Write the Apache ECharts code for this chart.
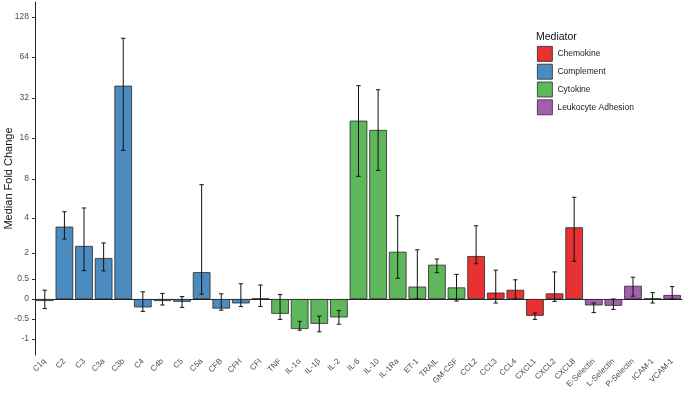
<!DOCTYPE html>
<html>
<head>
<meta charset="utf-8">
<script src="https://cdn.jsdelivr.net/npm/echarts@6/dist/echarts.min.js"></script>
<style>
  html, body { margin: 0; padding: 0; background: #fff; }
  #chart { width: 685px; height: 393px; }
</style>
</head>
<body>
<div id="chart"></div>
<script>
// categories and groups
var categories = ['C1q', 'C2', 'C3', 'C3a', 'C3b', 'C4', 'C4b', 'C5', 'C5a', 'CFB', 'CFH', 'CFI',
    'TNF', 'IL-1α', 'IL-1β', 'IL-2', 'IL-6', 'IL-10', 'IL-1Ra', 'ET-1', 'TRAIL', 'GM-CSF',
    'CCL2', 'CCL3', 'CCL4', 'CXCL1', 'CXCL2', 'CXCL8',
    'E-Selectin', 'L-Selectin', 'P-Selectin', 'ICAM-1', 'VCAM-1'];
var mediators = ['Complement', 'Complement', 'Complement', 'Complement', 'Complement', 'Complement',
    'Complement', 'Complement', 'Complement', 'Complement', 'Complement', 'Complement',
    'Cytokine', 'Cytokine', 'Cytokine', 'Cytokine', 'Cytokine', 'Cytokine', 'Cytokine', 'Cytokine',
    'Cytokine', 'Cytokine',
    'Chemokine', 'Chemokine', 'Chemokine', 'Chemokine', 'Chemokine', 'Chemokine',
    'Leukocyte Adhesion', 'Leukocyte Adhesion', 'Leukocyte Adhesion', 'Leukocyte Adhesion', 'Leukocyte Adhesion'];

// median fold change and error bar ends
var medians = [-0.05, 3.37, 2.30, 1.53, 39.4, -0.21, -0.05, -0.07, 0.72, -0.24, -0.11, 0.01,
    -0.37, -0.75, -0.62, -0.46, 21.6, 18.4, 2.05, 0.31, 1.07, 0.29,
    1.70, 0.16, 0.23, -0.42, 0.14, 3.33,
    -0.16, -0.17, 0.33, 0.01, 0.10];
var lower = [-0.24, 2.64, 0.78, 0.77, 13.0, -0.31, -0.15, -0.21, 0.12, -0.28, -0.19, -0.19,
    -0.51, -0.78, -0.82, -0.63, 8.37, 9.26, 0.52, 0.0, 0.70, -0.05,
    1.13, -0.10, 0.0, -0.51, -0.06, 1.29,
    -0.34, -0.26, 0.07, -0.10, 0.0];
var upper = [0.22, 4.47, 4.78, 2.44, 88.5, 0.18, 0.14, 0.06, 7.23, 0.13, 0.38, 0.35,
    0.11, -0.56, -0.43, -0.29, 39.4, 36.8, 4.17, 2.13, 1.45, 0.64,
    3.43, 0.80, 0.48, -0.35, 0.73, 5.78,
    -0.10, 0.0, 0.55, 0.16, 0.31];

// y axis breaks
var tickValues = [-1, -0.5, 0, 0.5, 2, 4, 8, 16, 32, 64, 128];
var tickLabels = ['-1', '-0.5', '0', '0.5', '2', '4', '8', '16', '32', '64', '128'];
// transformed level of each break (pseudo-log like scale of the original)
var tickLevels = [-40, -20, 0, 20, 46, 81, 120, 161, 201, 242, 282];

var groupNames = ['Chemokine', 'Complement', 'Cytokine', 'Leukocyte Adhesion'];
var groupColors = ['#E73133', '#4B8BBF', '#5FB75C', '#A260AC'];

// value -> axis level, piecewise (log2 between positive breaks above 0.5)
function scaleY(v) {
    var n = tickValues.length;
    if (v <= 0.5) {
        var i = 0;
        while (i < 3 && v > tickValues[i + 1]) i++;
        var a = tickValues[i], b = tickValues[i + 1];
        return tickLevels[i] + (v - a) / (b - a) * (tickLevels[i + 1] - tickLevels[i]);
    }
    var j = 3;
    while (j < n - 2 && v > tickValues[j + 1]) j++;
    var la = Math.log2(tickValues[j]), lb = Math.log2(tickValues[j + 1]);
    return tickLevels[j] + (Math.log2(v) - la) / (lb - la) * (tickLevels[j + 1] - tickLevels[j]);
}

var series = [];
groupNames.forEach(function (g, gi) {
    series.push({
        name: g,
        type: 'bar',
        barGap: '-100%',
        barCategoryGap: '10%',
        itemStyle: { color: groupColors[gi], borderColor: '#2b2b2b', borderWidth: 0.8 },
        data: medians.map(function (m, i) {
            return mediators[i] === g ? scaleY(m) : null;
        }),
        z: 2
    });
});

// error bars
series.push({
    type: 'custom',
    renderItem: function (params, api) {
        var x = api.value(0);
        var lo = api.coord([x, api.value(1)]);
        var hi = api.coord([x, api.value(2)]);
        var w = 2.2;
        var st = { stroke: '#111', lineWidth: 1 };
        return {
            type: 'group',
            children: [
                { type: 'line', shape: { x1: lo[0], y1: lo[1], x2: hi[0], y2: hi[1] }, style: st },
                { type: 'line', shape: { x1: lo[0] - w, y1: lo[1], x2: lo[0] + w, y2: lo[1] }, style: st },
                { type: 'line', shape: { x1: hi[0] - w, y1: hi[1], x2: hi[0] + w, y2: hi[1] }, style: st }
            ]
        };
    },
    encode: { x: 0, y: [1, 2] },
    data: categories.map(function (c, i) {
        return [i, scaleY(lower[i]), scaleY(upper[i])];
    }),
    z: 5
});

var myChart = echarts.init(document.getElementById('chart'));
var option = {
    animation: false,
    backgroundColor: '#fff',
    grid: { left: 35, right: 3, top: 2, bottom: 38, containLabel: false, outerBoundsMode: 'none' },
    title: {
        text: 'Mediator',
        left: 531,
        top: 27,
        textStyle: { fontSize: 10.5, fontWeight: 'normal', color: '#111', fontFamily: 'Liberation Sans, Arial' }
    },
    legend: {
        data: groupNames,
        orient: 'vertical',
        left: 532,
        top: 41,
        itemWidth: 15,
        itemHeight: 15,
        itemGap: 2,
        icon: 'rect',
        itemStyle: { borderColor: '#2b2b2b', borderWidth: 0.8 },
        textStyle: { fontSize: 8.5, color: '#222', fontFamily: 'Liberation Sans, Arial' }
    },
    xAxis: {
        type: 'category',
        data: categories,
        axisLine: { lineStyle: { color: '#222', width: 1 } },
        axisTick: { alignWithLabel: true, length: 3, lineStyle: { color: '#333' } },
        axisLabel: {
            rotate: 45,
            interval: 0,
            margin: 5,
            fontSize: 8,
            color: '#4d4d4d',
            fontFamily: 'Liberation Sans, Arial'
        },
        splitLine: { show: false }
    },
    yAxis: {
        type: 'value',
        min: -56,
        max: 297,
        name: 'Median Fold Change',
        nameLocation: 'middle',
        nameGap: 21,
        nameMoveOverlap: false,
        nameTextStyle: { fontSize: 11, color: '#111', fontFamily: 'Liberation Sans, Arial' },
        axisLine: { show: true, lineStyle: { color: '#222', width: 1 } },
        axisTick: { show: true, length: 3, customValues: tickLevels, lineStyle: { color: '#333' } },
        axisLabel: {
            customValues: tickLevels,
            margin: 6,
            fontSize: 8.5,
            color: '#4d4d4d',
            fontFamily: 'Liberation Sans, Arial',
            formatter: function (v) {
                var k = tickLevels.indexOf(v);
                return k >= 0 ? tickLabels[k] : '';
            }
        },
        splitLine: { show: false }
    },
    series: series
};
myChart.setOption(option);
</script>
</body>
</html>
